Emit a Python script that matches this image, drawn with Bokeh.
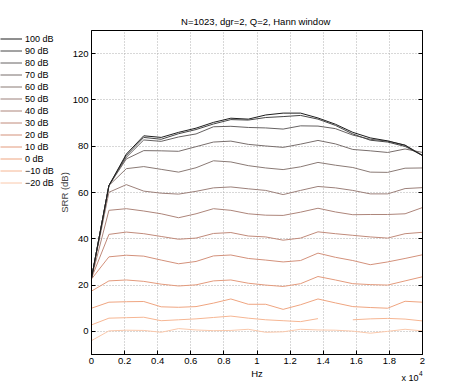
from bokeh.plotting import figure
from bokeh.layouts import row, column
from bokeh.models import Range1d, FixedTicker, LinearAxis, Legend, LegendItem, Label
from bokeh.embed import file_html
from bokeh.resources import INLINE

nan = float("nan")

freq_hz = [0, 1053, 2105, 3158, 4211, 5263, 6316, 7368, 8421, 9474,
           10526, 11579, 12632, 13684, 14737, 15789, 16842, 17895, 18947, 20000]

series_labels = ["100 dB", "90 dB", "80 dB", "70 dB", "60 dB", "50 dB", "40 dB",
                 "30 dB", "20 dB", "10 dB", "0 dB", "\u221210 dB", "\u221220 dB"]

srr_100 = [23, 63.0, 76.6, 84.5, 83.8, 86.0, 87.8, 90.3, 92.1, 91.7, 93.5, 94.3, 94.3, 92.2, 89.5, 86.0, 83.6, 82.3, 80.4, 75.9]
srr_90 = [23, 63.0, 76.0, 83.8, 83.0, 85.4, 87.2, 89.6, 91.5, 91.3, 92.4, 92.8, 93.3, 91.7, 89.0, 85.3, 82.6, 81.8, 79.9, 76.0]
srr_80 = [23, 63.0, 75.2, 82.7, 82.1, 84.0, 85.3, 88.4, 88.6, 88.1, 87.9, 87.4, 88.8, 88.7, 87.6, 84.8, 83.0, 82.2, 80.5, 76.1]
srr_70 = [23, 63.0, 74.5, 78.1, 78.0, 77.8, 79.8, 81.8, 82.2, 80.8, 80.1, 79.5, 80.9, 82.5, 81.0, 78.6, 78.0, 77.3, 78.8, 77.3]
srr_60 = [23, 63.0, 70.3, 71.2, 70.0, 68.8, 70.7, 73.7, 73.2, 71.6, 70.6, 69.9, 71.1, 73.0, 71.8, 70.8, 68.8, 68.7, 70.5, 70.6]
srr_50 = [23, 60.1, 63.4, 60.6, 59.7, 59.3, 60.5, 62.0, 62.4, 61.6, 60.9, 59.1, 60.9, 62.6, 62.0, 60.9, 59.4, 59.4, 61.7, 62.1]
srr_40 = [23, 52.3, 53.0, 52.0, 50.8, 49.1, 50.8, 53.0, 52.3, 50.8, 50.2, 50.1, 51.5, 53.2, 51.6, 50.4, 50.5, 50.5, 50.8, 53.5]
srr_30 = [23, 41.9, 42.9, 42.2, 41.0, 39.8, 40.3, 42.3, 42.7, 41.2, 40.8, 39.4, 40.3, 43.0, 42.2, 41.5, 40.8, 40.3, 42.2, 42.8]
srr_20 = [22.6, 32.2, 32.9, 32.5, 30.8, 29.2, 30.2, 32.6, 33.0, 31.5, 30.8, 30.0, 30.6, 33.8, 32.0, 30.6, 28.8, 30.0, 31.5, 33.1]
srr_10 = [17.4, 21.8, 22.2, 21.6, 20.4, 19.6, 20.1, 21.8, 22.2, 20.8, 20.0, 19.4, 20.6, 23.7, 22.2, 20.6, 20.2, 20.0, 21.8, 23.6]
srr_0 = [10.0, 12.6, 12.8, 12.9, 10.6, 10.4, 10.7, 12.2, 14.0, 11.7, 11.7, 9.5, 11.5, 14.0, 12.3, 10.7, 10.3, 10.0, 13.0, 12.6]
srr_m10 = [2.8, 5.7, 5.9, 6.1, 4.6, 5.0, 5.4, 6.0, 6.6, 5.7, 5.0, 4.6, 4.2, 5.5, nan, 5.0, 5.4, 5.6, 5.3, 4.5]
srr_m20 = [-4.0, 0.2, 0.5, 0.4, -0.4, 1.2, 0.6, 0.3, 0.4, 0.9, -0.4, -0.2, 0.9, 0.6, 0.5, 0.1, -0.8, 0.0, 0.9, 0.2]

series_values = [srr_100, srr_90, srr_80, srr_70, srr_60, srr_50, srr_40,
                 srr_30, srr_20, srr_10, srr_0, srr_m10, srr_m20]

line_colors = ["#1e1e1e", "#474747", "#666262", "#786e6c", "#8a7a75", "#9c807a",
               "#ad857a", "#c08a7a", "#d3917b", "#e39a7c", "#efa580", "#f6b693", "#fac8ab"]

x_ticks = [0, 2000, 4000, 6000, 8000, 10000, 12000, 14000, 16000, 18000, 20000]
x_tick_labels = ["0", "0.2", "0.4", "0.6", "0.8", "1", "1.2", "1.4", "1.6", "1.8", "2"]
y_ticks = [0, 20, 40, 60, 80, 100, 120]
X_MIN, X_MAX = 0, 20000
Y_MIN, Y_MAX = -10, 130

FONT = "Liberation Sans"
FS = "9.5px"

# layout geometry (pixels)
TOTAL_W, TOTAL_H = 474, 382
LEG_W = 55
MAIN_H = 369
FRAME_L, FRAME_R = 91, 422   # page x of the plot frame

# ---------------- main plot ----------------
p = figure(width=TOTAL_W - LEG_W, height=MAIN_H, output_backend="svg", toolbar_location=None,
           x_range=Range1d(X_MIN, X_MAX), y_range=Range1d(Y_MIN, Y_MAX),
           min_border_left=FRAME_L - LEG_W, min_border_right=TOTAL_W - FRAME_R,
           min_border_top=30, min_border_bottom=15,
           background_fill_color="white", border_fill_color="white")
p.outline_line_color = "black"
p.outline_line_width = 1

p.title.text = "N=1023, dgr=2, Q=2, Hann  window"
p.title.align = "center"
p.title.text_font = FONT
p.title.text_font_size = FS
p.title.text_font_style = "normal"
p.title.text_color = "black"
p.title.standoff = 7

for lab, vals, col in reversed(list(zip(series_labels, series_values, line_colors))):
    p.line(freq_hz, vals, line_color=col, line_width=1)

def style_axis(ax):
    ax.major_tick_in = 4
    ax.major_tick_out = 0
    ax.minor_tick_in = 0
    ax.minor_tick_out = 0
    ax.axis_line_color = "black"
    ax.major_tick_line_color = "black"
    ax.major_label_text_font = FONT
    ax.major_label_text_font_size = FS
    ax.major_label_text_color = "black"
    ax.major_label_standoff = 3

style_axis(p.xaxis[0])
style_axis(p.yaxis[0])
p.xaxis.ticker = FixedTicker(ticks=x_ticks)
p.xaxis.major_label_overrides = {t: s for t, s in zip(x_ticks, x_tick_labels)}
p.yaxis.ticker = FixedTicker(ticks=y_ticks)
p.yaxis.axis_label = "SRR (dB)"
p.yaxis.axis_label_text_font = FONT
p.yaxis.axis_label_text_font_size = FS
p.yaxis.axis_label_text_font_style = "normal"
p.yaxis.axis_label_standoff = 0

right_ax = LinearAxis(ticker=FixedTicker(ticks=y_ticks))
style_axis(right_ax)
right_ax.major_label_text_color = None
right_ax.major_label_text_font_size = "1px"
right_ax.major_label_standoff = 0
p.add_layout(right_ax, "right")

p.xgrid.ticker = FixedTicker(ticks=x_ticks)
p.ygrid.ticker = FixedTicker(ticks=y_ticks)
for g in (p.xgrid[0], p.ygrid[0]):
    g.grid_line_color = "#b0b0b0"
    g.grid_line_dash = "1 2"
    g.grid_line_width = 1

# ---------------- legend column (left) ----------------
lf = figure(width=LEG_W, height=MAIN_H, output_backend="svg", toolbar_location=None,
            x_axis_location=None, y_axis_location=None, min_border=0,
            x_range=Range1d(0, 1), y_range=Range1d(0, 1),
            background_fill_color="white", border_fill_color="white")
lf.outline_line_color = None
lf.grid.visible = False
items = []
for lab, col in zip(series_labels, line_colors):
    # legend-only renderer (a single undefined point draws nothing in the panel)
    r = lf.line(x=[nan], y=[nan], line_color=col, line_width=1)
    items.append(LegendItem(label=lab, renderers=[r]))
legend = Legend(items=items, location=(0, 166), padding=0, margin=0,
                glyph_width=22, glyph_height=11, label_height=11, spacing=1,
                label_standoff=3, label_text_font=FONT, label_text_font_size="9px",
                label_text_color="black",
                background_fill_alpha=0, border_line_alpha=0)
lf.add_layout(legend)

# ---------------- x-axis label strip (bottom) ----------------
px_per_unit = (FRAME_R - FRAME_L) / (X_MAX - X_MIN)
bf = figure(width=TOTAL_W, height=TOTAL_H - MAIN_H, output_backend="svg", toolbar_location=None,
            x_axis_location=None, y_axis_location=None, min_border=0,
            x_range=Range1d(X_MIN - FRAME_L / px_per_unit, X_MIN + (TOTAL_W - FRAME_L) / px_per_unit),
            y_range=Range1d(0, TOTAL_H - MAIN_H),
            background_fill_color="white", border_fill_color="white")
bf.outline_line_color = None
bf.grid.visible = False
bf.add_layout(Label(x=(X_MIN + X_MAX) / 2, y=9, text="Hz", text_align="center",
                    text_baseline="middle", text_font=FONT, text_font_size=FS,
                    text_color="black"))
bf.add_layout(Label(x=X_MAX, y=5, x_offset=-4, text="x 10", text_align="right",
                    text_baseline="middle", text_font=FONT, text_font_size="9px",
                    text_color="black"))
bf.add_layout(Label(x=X_MAX, y=9.5, x_offset=-3.5, text="4", text_align="left",
                    text_baseline="middle", text_font=FONT, text_font_size="6.5px",
                    text_color="black"))

layout = column(row(lf, p), bf)
open("out.html", "w").write(file_html(layout, INLINE))
